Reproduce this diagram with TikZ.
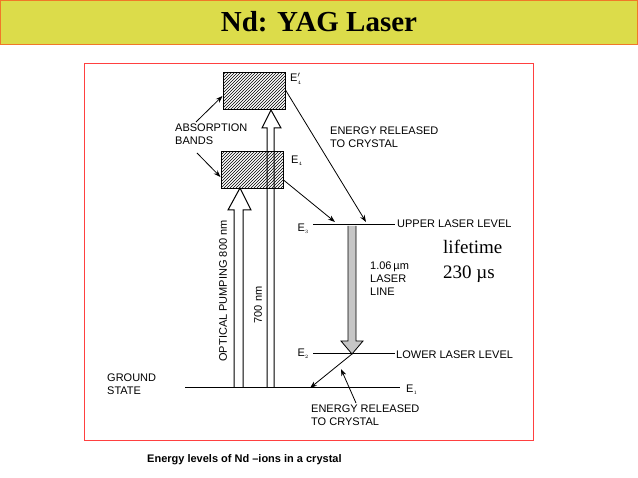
\documentclass[tikz,border=0pt]{standalone}
\usepackage{fontspec}
\setmainfont{Liberation Sans}
\newfontfamily\serifx{Liberation Serif}
\usetikzlibrary{patterns,arrows.meta}
\begin{document}
\begin{tikzpicture}[x=1pt,y=-1pt,
  lbl/.style={font=\fontsize{11}{13}\selectfont,inner sep=0pt,align=left},
  band/.style={draw,line width=1pt,pattern=north east lines},
  lvl/.style={line width=1pt},
  arr/.style={-{Stealth[length=7pt,width=5pt]},line width=0.8pt},
  hollow/.style={draw,line width=1pt}]
\useasboundingbox (0,0) rectangle (638,478);
\fill[white] (0,0) rectangle (638,478);
\draw[fill={rgb,255:red,220;green,220;blue,74},draw={rgb,255:red,240;green,120;blue,40}] (0.5,0.5) rectangle (637.5,44);
\node[font=\serifx\bfseries\fontsize{29}{32}\selectfont] (title) at (319,22) {Nd: YAG Laser};
\draw[red!75,line width=0.8pt] (84,63) rectangle (533,440);
% bands
\node[band,minimum width=62pt,minimum height=37pt,inner sep=0pt] (b2) at (254,91.5) {};
\node[band,minimum width=62pt,minimum height=37pt,inner sep=0pt] (b1) at (252,170.5) {};
\node[lbl,anchor=west] (e4p) at (290,79) {E$'_{\scriptscriptstyle 4}$};
\node[lbl,anchor=west] (e4) at (291,161) {E$_{\scriptscriptstyle 4}$};
% levels
\coordinate (g1) at (185,388); \coordinate (g2) at (400,388);
\draw[lvl] (g1) -- (g2);
\node[lbl,anchor=west] (e1) at (406,390) {E$_{\scriptscriptstyle 1}$};
\coordinate (u1) at (313,225); \coordinate (u2) at (395,225);
\draw[lvl] (u1) -- (u2);
\node[lbl,anchor=east] (e3) at (309,229) {E$_{\scriptscriptstyle 3}$};
\node[lbl,anchor=west] (ull) at (397,224) {UPPER LASER LEVEL};
\coordinate (l1) at (313,354); \coordinate (l2) at (395,354);
\draw[lvl] (l1) -- (l2);
\node[lbl,anchor=east] (e2) at (309,354) {E$_{\scriptscriptstyle 2}$};
\node[lbl,anchor=west] (lll) at (396,355) {LOWER LASER LEVEL};
% pumping arrows
\draw[hollow] (234,388) -- (234,210) -- (228,210) -- (240,188) -- (251,210) -- (243,210) -- (243,388);
\draw[hollow] (267,388) -- (267,128) -- (262,128) -- (271,110) -- (281,128) -- (274,128) -- (274,388);
\node[lbl,rotate=90] (op) at (223,291) {OPTICAL PUMPING 800 nm};
\node[lbl,rotate=90] (n700) at (258,305) {700 nm};
% laser line
\draw[line width=0.8pt,fill=gray!45] (348,226) -- (348,341) -- (341,341) -- (352,354) -- (363,341) -- (356,341) -- (356,226);
\node[lbl,anchor=north west] (ll) at (370,262) {1.06\,µm\\LASER\\LINE};
\node[font=\serifx\fontsize{19}{25}\selectfont,align=left,anchor=north west,inner sep=0pt] (lt) at (443,240) {lifetime\\230 µs};
% absorption labels
\node[lbl,anchor=north west] (ab) at (175,124) {ABSORPTION\\BANDS};
\draw[arr] (196,122) -- (b2.west|-0,96);
\draw[arr] (197,153) -- (b1.west|-0,177);
\node[lbl,anchor=north west] (er1) at (330,127) {ENERGY RELEASED\\TO CRYSTAL};
\draw[arr] (b1.east|-0,180) -- (335,222);
\draw[arr] (b2.east|-0,90) -- (366,222);
% decay to ground
\coordinate (d0) at (352,354);
\draw[arr] (d0) -- (310,388);
\node[lbl,anchor=north west] (er2) at (311,405) {ENERGY RELEASED\\TO CRYSTAL};
\draw[arr] (356,403) -- (341,369);
\node[lbl,anchor=west] (gs) at (107,384) {GROUND\\STATE};
\node[font=\bfseries\fontsize{11}{13}\selectfont,anchor=west,inner sep=0pt] (cap) at (147,460) {Energy levels of Nd --ions in a crystal};
\end{tikzpicture}
\end{document}
